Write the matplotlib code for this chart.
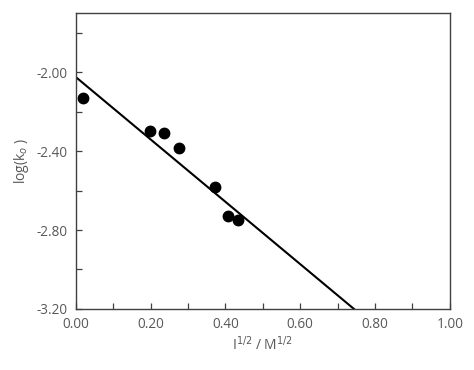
import numpy as np
import matplotlib.pyplot as plt
from matplotlib.ticker import MultipleLocator, FormatStrFormatter

# measured points
sqrt_I = [0.019, 0.198, 0.235, 0.275, 0.372, 0.406, 0.433]
log_k = [-2.13, -2.30, -2.31, -2.385, -2.58, -2.73, -2.75]

# fitted line
intercept = -2.025
slope = -1.58
fit_x = [0.0, 0.80]

plt.rcParams['font.family'] = ['Open Sans', 'DejaVu Sans']
grey = '#595959'

fig = plt.figure(figsize=(4.74, 3.70), dpi=100)
ax = fig.add_axes([0.160, 0.165, 0.789, 0.800])

fx = np.array(fit_x)
ax.plot(fx, intercept + slope * fx, color='black', linewidth=1.5)
ax.plot(sqrt_I, log_k, 'o', color='black', markersize=7.5)

ax.set_xlim(0, 1.0)
ax.set_ylim(-3.2, -1.7)
ax.xaxis.set_major_locator(MultipleLocator(0.2))
ax.xaxis.set_minor_locator(MultipleLocator(0.1))
ax.yaxis.set_major_locator(MultipleLocator(0.4))
ax.yaxis.set_minor_locator(MultipleLocator(0.2))
ax.xaxis.set_major_formatter(FormatStrFormatter('%.2f'))
ax.yaxis.set_major_formatter(FormatStrFormatter('%.2f'))
ax.set_yticks([-3.2, -2.8, -2.4, -2.0])

ax.tick_params(which='both', direction='in', length=4, width=0.9, color='#404040',
               labelsize=9.8, labelcolor=grey, pad=6)
for s in ax.spines.values():
    s.set_color('#404040')
    s.set_linewidth(1.0)

ax.set_xlabel(r'I$^{1/2}$ / M$^{1/2}$', fontsize=10, color=grey, labelpad=2)
ax.set_ylabel(r'log(k$_o$ )', fontsize=10, color=grey, labelpad=4)

fig.savefig('out.png', dpi=100)
